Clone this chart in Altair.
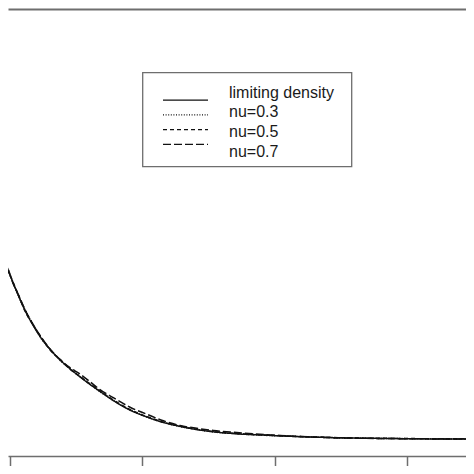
import altair as alt
import pandas as pd

# shared x positions of the sampled curves
xs = [1.849, 1.974, 2.050, 2.125, 2.227, 2.352, 2.479, 2.605, 2.756, 2.907, 3.058, 3.183,
      3.360, 3.561, 3.814, 4.066, 4.317, 4.569, 4.822, 5.073, 5.426, 5.884, 6.383, 6.882,
      7.895, 9.013]
limiting = [0.2240, 0.1990, 0.1840, 0.1700, 0.1520, 0.1340, 0.1185, 0.1060, 0.0935, 0.0830,
            0.0735, 0.0660, 0.0563, 0.0455, 0.0342, 0.0262, 0.0196, 0.0150, 0.0112, 0.0086,
            0.0062, 0.0045, 0.0028, 0.0017, 0.0005, 0.0000]
nu03 = [0.2250, 0.1997, 0.1846, 0.1695, 0.1528, 0.1346, 0.1180, 0.1064, 0.0931, 0.0833,
        0.0738, 0.0664, 0.0559, 0.0459, 0.0345, 0.0260, 0.0198, 0.0148, 0.0114, 0.0084,
        0.0064, 0.0043, 0.0030, 0.0016, 0.0006, 0.0001]
nu05 = [0.2235, 0.1982, 0.1846, 0.1706, 0.1513, 0.1346, 0.1191, 0.1054, 0.0941, 0.0825,
        0.0740, 0.0667, 0.0569, 0.0461, 0.0348, 0.0266, 0.0200, 0.0153, 0.0115, 0.0089,
        0.0065, 0.0047, 0.0030, 0.0018, 0.0007, 0.0002]
nu07 = [0.2240, 0.2002, 0.1831, 0.1710, 0.1528, 0.1351, 0.1195, 0.1064, 0.0941, 0.0843,
        0.0768, 0.0694, 0.0584, 0.0489, 0.0376, 0.0294, 0.0216, 0.0160, 0.0127, 0.0101,
        0.0077, 0.0050, 0.0030, 0.0016, 0.0005, 0.0000]

series_names = ["limiting density", "nu=0.3", "nu=0.5", "nu=0.7"]
series_values = [limiting, nu03, nu05, nu07]
dash_patterns = [[1, 0], [1, 1.6], [4, 3], [8, 3]]
x_ticks = [2, 4, 6, 8]

rows = []
for name, vals in zip(series_names, series_values):
    for x, y in zip(xs, vals):
        rows.append({"x": x, "y": y, "series": name})
df = pd.DataFrame(rows)

legend_df = pd.DataFrame({"series": series_names, "row": list(range(len(series_names)))})

GRAY = "#6e6e6e"
xscale = alt.Scale(domain=[1.97, 8.89], nice=False, zero=False)
yscale = alt.Scale(domain=[-0.02, 0.508], nice=False, zero=False)
dash = alt.StrokeDash("series:N", scale=alt.Scale(domain=series_names, range=dash_patterns), legend=None)

lines = alt.Chart(df).mark_line(color="#111111", strokeWidth=1.5, clip=True, interpolate="monotone").encode(
    x=alt.X("x:Q", scale=xscale,
            axis=alt.Axis(values=x_ticks, labels=False, title=None, grid=False, tickSize=10,
                          domainColor=GRAY, tickColor=GRAY, domainWidth=1.5, tickWidth=1.5)),
    y=alt.Y("y:Q", scale=yscale, axis=None),
    strokeDash=dash,
)

topframe = alt.Chart(df).mark_line(opacity=0).encode(
    x=alt.X("x:Q", scale=xscale,
            axis=alt.Axis(orient="top", labels=False, ticks=False, title=None, grid=False,
                          domainColor=GRAY, domainWidth=2.2)),
    y=alt.Y("y:Q", scale=yscale, axis=None),
)

box = alt.Chart(pd.DataFrame({"b": [0]})).mark_rect(fill="white", stroke=GRAY, strokeWidth=1.3).encode(
    x=alt.value(134.7), x2=alt.value(343.7), y=alt.value(63.7), y2=alt.value(157.7)
)

rowscale = alt.Scale(domain=list(range(len(series_names))), range=[83.7, 142.7], padding=0)

leg_lines = alt.Chart(legend_df).mark_rule(color="#111111", strokeWidth=1.1).encode(
    x=alt.value(155), x2=alt.value(200),
    y=alt.Y("row:O", scale=rowscale, axis=None),
    strokeDash=dash,
)

leg_text = alt.Chart(legend_df).mark_text(align="left", baseline="middle", font="Liberation Sans",
                                          fontSize=16, color="#1a1a1a").encode(
    x=alt.value(221),
    y=alt.Y("row:O", scale=rowscale, axis=None),
    text="series:N",
)

chart = alt.layer(lines, topframe, box, leg_lines, leg_text).resolve_scale(
    y="independent"
).resolve_axis(x="independent").properties(
    width=458, height=447,
    padding={"left": 0, "right": 0, "top": 1, "bottom": 10},
    autosize=alt.AutoSizeParams(type="none"),
).configure_view(stroke=None)

chart.save("out.html", embed_options={"renderer": "svg", "actions": False})
